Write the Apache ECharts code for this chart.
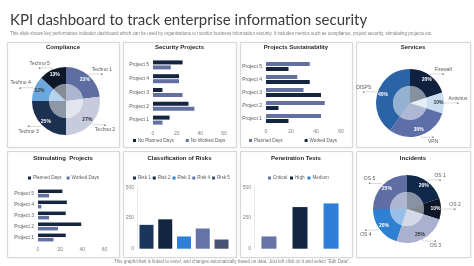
<!DOCTYPE html>
<html>
<head>
<meta charset="utf-8">
<script src="https://cdn.jsdelivr.net/npm/echarts@6/dist/echarts.min.js"></script>
<style>
  html, body { margin: 0; padding: 0; background: #fff; }
  #chart { width: 474px; height: 266px; }
</style>
</head>
<body>
<div id="chart"></div>
<script>
// data
const complianceNames = ['Techno 1', 'Techno 2', 'Techno 3', 'Techno 4', 'Techno 5'];
const complianceValues = [23, 27, 25, 12, 13];
const projects = ['Project 1', 'Project 2', 'Project 3', 'Project 4', 'Project 5'];
const securityPlanned = [14, 30, 8, 22, 25];
const securityWorked = [8, 35, 25, 22, 15];
const sustainPlanned = [44, 47, 30, 25, 35];
const sustainWorked = [18, 10, 44, 35, 18];
const servicesNames = ['Firewall', 'Antivirus', 'VPN', 'DISPS'];
const servicesValues = [20, 10, 30, 40];
const stimPlanned = [25, 39, 25, 26, 22];
const stimWorked = [14, 18, 10, 3, 10];
const riskNames = ['Risk 1', 'Risk 2', 'Risk 3', 'Risk 4', 'Risk 5'];
const riskValues = [195, 240, 100, 165, 75];
const penNames = ['Critical', 'High', 'Medium'];
const penValues = [100, 340, 370];
const incidentNames = ['OS 1', 'OS 2', 'OS 3', 'OS 4', 'OS 5'];
const incidentValues = [20, 10, 25, 20, 25];
const dayTicks = [0, 20, 40, 60];
const countTicks = [0, 250, 500];

const navy = '#15253f';
const slate = '#6270a2';
const complianceColors = ['#5d6ca1', '#c7cbdd', '#1c3050', '#6ba8e0', '#0e1729'];
const servicesColors = ['#0f213f', '#c9ddf1', '#5d6fa8', '#2b64a6'];
const incidentColors = ['#10284a', '#0b1628', '#a9b1cf', '#2f7fd2', '#5f6da4'];
const riskColors = ['#1b365d', '#132641', '#2f7ed8', '#6573a7', '#465174'];
const penColors = ['#6573a7', '#132641', '#2f7ed8'];

const font = 'Liberation Sans';
const chart = echarts.init(document.getElementById('chart'), null, { renderer: 'canvas' });

function isLight(c) {
  const n = parseInt(c.slice(1), 16);
  return ((n >> 16) * 0.3 + ((n >> 8) & 255) * 0.59 + (n & 255) * 0.11) > 150;
}

function donut(names, values, colors, center) {
  const items = names.map((n, i) => ({ name: n, value: values[i], itemStyle: { color: colors[i] } }));
  // slices whose middle points downwards get their name under the leader line
  const total = values.reduce((a, b) => a + b, 0);
  let cum = 0;
  const lower = values.map(v => {
    const f = (cum + v / 2) / total;
    cum += v;
    return Math.cos(2 * Math.PI * f) < 0;
  });
  return [
    {
      type: 'pie', center, radius: [0, 17], silent: true, startAngle: 90,
      label: { show: false }, labelLine: { show: false },
      itemStyle: { opacity: 0.5 },
      data: items
    },
    {
      type: 'pie', center, radius: [17, 34], silent: true, startAngle: 90,
      avoidLabelOverlap: false,
      label: {
        show: true, position: 'inside', formatter: '{d}%', fontSize: 5,
        fontWeight: 'bold', fontFamily: font
      },
      labelLine: { show: false },
      data: items.map(d => Object.assign({}, d, {
        label: { color: isLight(d.itemStyle.color) ? '#333' : '#fff' }
      }))
    },
    {
      type: 'pie', center, radius: [17, 34], silent: true, startAngle: 90,
      avoidLabelOverlap: false,
      itemStyle: { color: 'rgba(0,0,0,0)' },
      label: {
        show: true, position: 'outside', overflow: 'none',
        fontSize: 5, color: '#595959', fontFamily: font, lineHeight: 5.5,
        rich: { m: { fontSize: 3, color: '#7f7f7f', lineHeight: 4 } }
      },
      labelLine: { show: true, length: 2, length2: 12, lineStyle: { color: '#bfbfbf', width: 0.6 } },
      labelLayout(params) {
        const pts = params.labelLinePoints;
        if (!pts) return {};
        const end = pts[pts.length - 1];
        const low = lower[params.dataIndex];
        return {
          x: end[0], y: low ? end[1] - 2 : end[1] + 2, align: 'center',
          verticalAlign: low ? 'top' : 'bottom', labelLinePoints: pts
        };
      },
      data: names.map((n, i) => ({
        name: n, value: values[i],
        label: { formatter: lower[i] ? '{m|■}\n{b}' : '{b}\n{m|■}' }
      }))
    }
  ];
}

const axisText = { fontSize: 5, color: '#7f7f7f', fontFamily: font };

function dayAxis(grid) {
  return {
    type: 'value', gridIndex: grid, min: dayTicks[0], max: dayTicks[dayTicks.length - 1],
    interval: dayTicks[1] - dayTicks[0],
    axisLabel: Object.assign({ margin: 4 }, axisText),
    axisLine: { show: false }, axisTick: { show: false }, splitLine: { show: false }
  };
}
function projectAxis(grid) {
  return {
    type: 'category', gridIndex: grid, data: projects,
    axisLabel: Object.assign({ margin: 4 }, axisText, { color: '#595959' }),
    axisLine: { show: false }, axisTick: { show: false }
  };
}
function countAxis(grid) {
  return {
    type: 'value', gridIndex: grid, min: countTicks[0], max: countTicks[countTicks.length - 1],
    interval: countTicks[1] - countTicks[0],
    axisLabel: Object.assign({ margin: 3 }, axisText),
    axisLine: { show: true, lineStyle: { color: '#d9d9d9', width: 0.6 } },
    axisTick: { show: false }, splitLine: { show: false }
  };
}
function blankAxis(grid) {
  return {
    type: 'category', gridIndex: grid, data: [''],
    axisLabel: { show: false }, axisLine: { show: false }, axisTick: { show: false }
  };
}

function hbar(name, data, color, idx, width) {
  return {
    type: 'bar', name, data, xAxisIndex: idx, yAxisIndex: idx,
    barWidth: width, barGap: '25%', itemStyle: { color }, silent: true
  };
}

function legend(items, left, top, gap) {
  return {
    left, top, padding: 0, itemWidth: 3, itemHeight: 3, itemGap: gap, icon: 'rect',
    selectedMode: false,
    textStyle: { fontSize: 4.6, color: '#595959', fontFamily: font, padding: [0, 0, 0, -3] },
    data: items.map(it => ({ name: it[0], itemStyle: { color: it[1] } }))
  };
}

const panels = [
  [7, 42, 112, 105, 'Compliance'],
  [123, 42, 113, 105, 'Security Projects'],
  [240, 42, 112, 105, 'Projects Sustainability'],
  [356, 42, 114, 105, 'Services'],
  [7, 151, 112, 106, 'Stimulating  Projects'],
  [123, 151, 113, 106, 'Classification of Risks'],
  [240, 151, 112, 106, 'Penetration Tests'],
  [356, 151, 114, 106, 'Incidents']
];

const graphics = [];
panels.forEach(p => {
  graphics.push({
    type: 'rect', z: 0, shape: { x: p[0] + 0.5, y: p[1] + 0.5, width: p[2], height: p[3] },
    style: { fill: '#fff', stroke: '#d9d9d9', lineWidth: 1, shadowBlur: 2, shadowColor: 'rgba(0,0,0,0.08)' }
  });
  graphics.push({
    type: 'text', z: 10, x: p[0] + p[2] / 2, y: p[1] + (p[1] < 100 ? 5 : 7),
    style: {
      text: p[4], fontSize: 6, fontWeight: 'bold', fill: '#262626', fontFamily: font,
      align: 'center', verticalAlign: 'middle'
    }
  });
});
graphics.push({
  type: 'text', z: 10, x: 10, y: 20,
  style: {
    text: 'KPI dashboard to track enterprise information security', fontSize: 15,
    fill: '#3a3a3a', fontFamily: 'Lato', align: 'left', verticalAlign: 'middle'
  }
});
graphics.push({
  type: 'text', z: 10, x: 10, y: 34,
  style: {
    text: 'This slide shows key performance indicator dashboard which can be used by organizations to monitor business information security. It includes metrics such as compliance, project security, stimulating projects etc.',
    fontSize: 4.5, fill: '#7f7f7f', fontFamily: font, align: 'left', verticalAlign: 'middle'
  }
});
graphics.push({
  type: 'text', z: 10, x: 232, y: 262,
  style: {
    text: 'This graph/chart is linked to excel, and changes automatically based on data. Just left click on it and select "Edit Data".',
    fontSize: 4.5, fill: '#7f7f7f', fontFamily: font, align: 'center', verticalAlign: 'middle'
  }
});

const riskSeries = riskNames.map((n, i) => ({
  type: 'bar', name: n, data: [riskValues[i]], xAxisIndex: 3, yAxisIndex: 3,
  barWidth: 14, barGap: '34%', itemStyle: { color: riskColors[i] }, silent: true
}));
const penSeries = penNames.map((n, i) => ({
  type: 'bar', name: n, data: [penValues[i]], xAxisIndex: 4, yAxisIndex: 4,
  barWidth: 15, barGap: '107%', itemStyle: { color: penColors[i] }, silent: true
}));

const option = {
  animation: false,
  backgroundColor: '#fff',
  graphic: graphics,
  grid: [
    { left: 153, top: 58, width: 71, height: 69 },
    { left: 266, top: 60, width: 75, height: 65 },
    { left: 38, top: 188, width: 66.5, height: 55 },
    { left: 137, top: 187.5, width: 94, height: 61.2 },
    { left: 254, top: 187.5, width: 92, height: 61.2 }
  ],
  xAxis: [dayAxis(0), dayAxis(1), dayAxis(2), blankAxis(3), blankAxis(4)],
  yAxis: [projectAxis(0), projectAxis(1), projectAxis(2), countAxis(3), countAxis(4)],
  legend: [
    legend([['No Planned Days', navy], ['No Worked Days', slate]], 133, 138, 12),
    legend([['Planned Days', slate], ['Worked Days', navy]], 249, 138, 22),
    legend([['Planned Days', navy], ['Worked Days', slate]], 28, 175.5, 5),
    legend(riskNames.map((n, i) => [n, riskColors[i]]), 133, 175.5, 2),
    legend(penNames.map((n, i) => [n, penColors[i]]), 268, 175.5, 3)
  ],
  series: [
    hbar('No Planned Days', securityPlanned, navy, 0, 4),
    hbar('No Worked Days', securityWorked, slate, 0, 4),
    hbar('Planned Days', sustainPlanned, slate, 1, 4),
    hbar('Worked Days', sustainWorked, navy, 1, 4),
    hbar('Planned Days', stimPlanned, navy, 2, 3.5),
    hbar('Worked Days', stimWorked, slate, 2, 3.5)
  ].concat(riskSeries, penSeries,
    donut(complianceNames, complianceValues, complianceColors, [66, 101]),
    donut(servicesNames, servicesValues, servicesColors, [410, 103]),
    donut(incidentNames, incidentValues, incidentColors, [407, 209]))
};

chart.setOption(option);
</script>
</body>
</html>
